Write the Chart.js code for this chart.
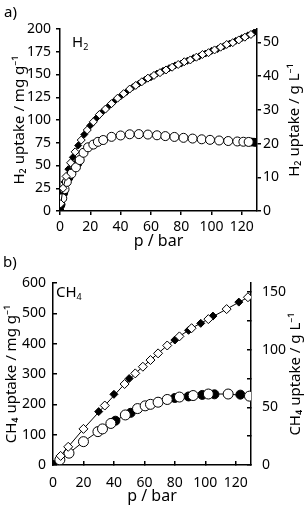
<!DOCTYPE html>
<html>
<head>
<meta charset="utf-8">
<script src="https://cdn.jsdelivr.net/npm/chart.js@4.4.0/dist/chart.umd.min.js"></script>
<style>
  body { margin: 0; background: #fff; width: 305px; height: 507px; position: relative; overflow: hidden; font-family: "Noto Sans", "DejaVu Sans", sans-serif; }
  .panel { position: absolute; left: 0; width: 305px; }
  .lbl { position: absolute; font-size: 15px; color: #000; line-height: 1; }
  .lbl sub { font-size: 9px; vertical-align: -3px; }
</style>
</head>
<body>
<div class="panel" style="top:0;height:250px"><canvas id="h2"></canvas></div>
<div class="panel" style="top:250px;height:257px"><canvas id="ch4"></canvas></div>
<div class="lbl" style="left:4px;top:4px">a)</div>
<div class="lbl" style="left:72px;top:34px">H<sub>2</sub></div>
<div class="lbl" style="left:3px;top:254px">b)</div>
<div class="lbl" style="left:56px;top:284px">CH<sub>4</sub></div>
<script>
// ---- H2 (panel a) ----
const h2TotalOpenP = [0.5, 2, 4, 7, 10, 14, 18, 22, 26, 30, 34, 38, 42, 46, 50, 54, 58, 62, 66, 70, 74, 78, 82, 86, 90, 94, 98, 102, 106, 110, 114, 118, 122, 126];
const h2TotalOpen  = [8, 25, 38, 53, 65, 78, 89, 98, 106, 112, 118, 124, 129, 134, 138, 142, 146, 149, 152, 155, 158, 161, 164, 166, 169, 172, 174, 177, 180, 183, 185, 188, 191, 194];
const h2TotalFullP = [0, 1, 3, 5.5, 8.5, 12, 16, 20, 24, 28, 32, 36, 40, 44, 48, 52, 56, 60, 64, 68, 72, 76, 80, 84, 88, 92, 96, 100, 104, 108, 112, 116, 120, 124, 128, 129.5];
const h2TotalFull  = [0, 15, 32, 46, 59, 72, 84, 94, 102, 109, 115, 121, 126, 131, 136, 140, 144, 147, 151, 154, 157, 160, 162, 165, 168, 170, 173, 176, 178, 181, 184, 187, 190, 193, 196, 197];
const h2ExcessOpenP = [1.5, 3, 4.5, 7.5, 10.5, 13, 15.5, 18.5, 22, 25, 28.5, 34, 40, 46, 52, 58, 64, 69.5, 75.5, 81.5, 87.5, 93.5, 99, 105, 111, 117, 121, 124.5];
const h2ExcessOpen  = [14, 24, 32, 41, 48, 56, 64, 70, 73, 76, 78, 81.5, 83, 84.3, 84.5, 84, 83.2, 82.3, 81.4, 80.4, 79.6, 78.8, 78.2, 77.5, 76.9, 76.4, 76.1, 75.9];
const h2ExcessFullP = [0, 0.7, 2.5, 6, 12, 126.5, 128, 129.5];
const h2ExcessFull  = [0, 7, 20, 37, 53, 75.8, 75.6, 75.4];

// ---- CH4 (panel b) ----
const ch4TotalOpenP = [5, 10, 20, 34, 47, 54, 59, 64, 69, 75, 83, 91, 102, 114, 128];
const ch4TotalOpen  = [30, 60, 119, 196, 267, 302, 324, 346, 368, 394, 424, 451, 481, 514, 553];
const ch4TotalFullP = [0, 30, 40, 50, 80, 89, 97, 105, 122];
const ch4TotalFull  = [0, 176, 233, 285, 412, 444, 467, 491, 537];
const ch4ExcessOpenP = [4.5, 10.5, 20, 29.5, 32.5, 38, 47.5, 55.5, 60.5, 64, 69, 75, 83, 92, 102, 115, 129];
const ch4ExcessOpen  = [17, 39, 77, 110, 119, 137, 165, 186, 195, 200, 207, 216, 224, 229, 234, 234, 227];
const ch4ExcessFullP = [0, 41, 51, 80, 89, 98, 106, 123];
const ch4ExcessFull  = [0, 146, 172, 221, 226, 231, 233, 232];

const xTicks = [0, 20, 40, 60, 80, 100, 120];

Chart.defaults.font.family = "'Noto Sans', 'DejaVu Sans', sans-serif";
Chart.defaults.color = '#000';

const pts = (xs, ys) => xs.map((x, i) => ({ x: x, y: ys[i] }));

const rightTitle = {
  id: 'rightTitle',
  afterDraw(chart, args, opts) {
    const { ctx, chartArea } = chart;
    ctx.save();
    ctx.translate(opts.x, (chartArea.top + chartArea.bottom) / 2);
    ctx.rotate(-Math.PI / 2);
    ctx.font = "15px 'Noto Sans', 'DejaVu Sans', sans-serif";
    ctx.fillStyle = '#000';
    ctx.textAlign = 'center';
    ctx.textBaseline = 'middle';
    ctx.fillText(opts.text, 0, 0);
    ctx.restore();
  }
};

function sets(totOpen, excOpen, totFull, excFull, r) {
  const open = { showLine: true, borderColor: '#000', borderWidth: 1, pointBackgroundColor: '#fff', pointBorderColor: '#000', pointBorderWidth: 1 };
  const full = { showLine: false, pointBackgroundColor: '#000', pointBorderColor: '#000', pointBorderWidth: 1 };
  return [
    Object.assign({ data: totOpen, pointStyle: 'rectRot', pointRadius: r.d }, open),
    Object.assign({ data: excOpen, pointStyle: 'circle', pointRadius: r.c }, open),
    Object.assign({ data: totFull, pointStyle: 'rectRot', pointRadius: r.d - 0.5 }, full),
    Object.assign({ data: excFull, pointStyle: 'circle', pointRadius: r.c - 0.5 }, full)
  ];
}

function axis(extra) {
  return Object.assign({
    border: { display: true, color: '#000', width: 1.5 }
  }, extra);
}

function makeChart(id, o) {
  return new Chart(document.getElementById(id), {
    type: 'scatter',
    data: { datasets: sets(o.totOpen, o.excOpen, o.totFull, o.excFull, o.r) },
    options: {
      responsive: true,
      maintainAspectRatio: false,
      animation: false,
      layout: { padding: { top: o.padTop, left: 0, right: 0, bottom: 0 } },
      plugins: { legend: { display: false }, tooltip: { enabled: false }, rightTitle: { text: o.rightText, x: o.rightX } },
      scales: {
        x: axis({
          type: 'linear', min: 0, max: 130,
          grid: { drawOnChartArea: false, color: '#000', lineWidth: 1.5, tickLength: o.tl },
          afterBuildTicks: s => { s.ticks = xTicks.map(v => ({ value: v })); },
          ticks: { font: { size: 14 }, padding: o.xPad, maxRotation: 0 },
          title: { display: true, text: 'p / bar', font: { size: 16, lineHeight: 1.1 }, padding: { top: 0, bottom: o.xTitlePad } },
          afterFit: s => { s.height = o.xH; }
        }),
        y: axis({
          position: 'left', min: 0, max: o.yMax,
          grid: { drawOnChartArea: false, color: '#000', lineWidth: 1.5, tickLength: o.tl },
          ticks: { stepSize: o.yStep, font: { size: 14 }, padding: o.yPad, callback: v => (v % o.yLab === 0 ? v : '') },
          title: { display: true, text: o.leftText, font: { size: 15, lineHeight: 1.1 }, padding: { top: o.yTitlePad, bottom: 0 } },
          afterFit: s => { s.width = o.left; }
        }),
        y1: axis({
          position: 'right', min: 0, max: o.rMax,
          grid: { drawOnChartArea: false, color: '#000', lineWidth: 1.5, tickLength: o.tl },
          ticks: { stepSize: o.rStep, includeBounds: false, font: { size: 14 }, padding: o.rPad, callback: v => (v % o.rLab === 0 ? v : '') },
          afterFit: s => { s.width = 305 - o.right; }
        })
      }
    },
    plugins: [rightTitle]
  });
}

makeChart('h2', {
  totOpen: pts(h2TotalOpenP, h2TotalOpen), excOpen: pts(h2ExcessOpenP, h2ExcessOpen),
  totFull: pts(h2TotalFullP, h2TotalFull), excFull: pts(h2ExcessFullP, h2ExcessFull),
  r: { d: 4, c: 4.5 },
  padTop: 29, left: 60, right: 257, xH: 39, tl: 4, xPad: 4, yPad: 5, rPad: 2,
  xTitlePad: 0, yTitlePad: 11,
  yMax: 200, yStep: 25, yLab: 25, rMax: 54, rStep: 10, rLab: 10,
  leftText: 'H\u2082 uptake / mg g\u207B\u00B9', rightText: 'H\u2082 uptake / g L\u207B\u00B9', rightX: 295
});

makeChart('ch4', {
  totOpen: pts(ch4TotalOpenP, ch4TotalOpen), excOpen: pts(ch4ExcessOpenP, ch4ExcessOpen),
  totFull: pts(ch4TotalFullP, ch4TotalFull), excFull: pts(ch4ExcessFullP, ch4ExcessFull),
  r: { d: 4.5, c: 5 },
  padTop: 33, left: 53, right: 251, xH: 42, tl: -4, xPad: 14, yPad: 11, rPad: 15,
  xTitlePad: 2, yTitlePad: 3,
  yMax: 600, yStep: 50, yLab: 100, rMax: 158, rStep: 25, rLab: 50,
  leftText: 'CH\u2084 uptake / mg g\u207B\u00B9', rightText: 'CH\u2084 uptake / g L\u207B\u00B9', rightX: 296
});
</script>
</body>
</html>
